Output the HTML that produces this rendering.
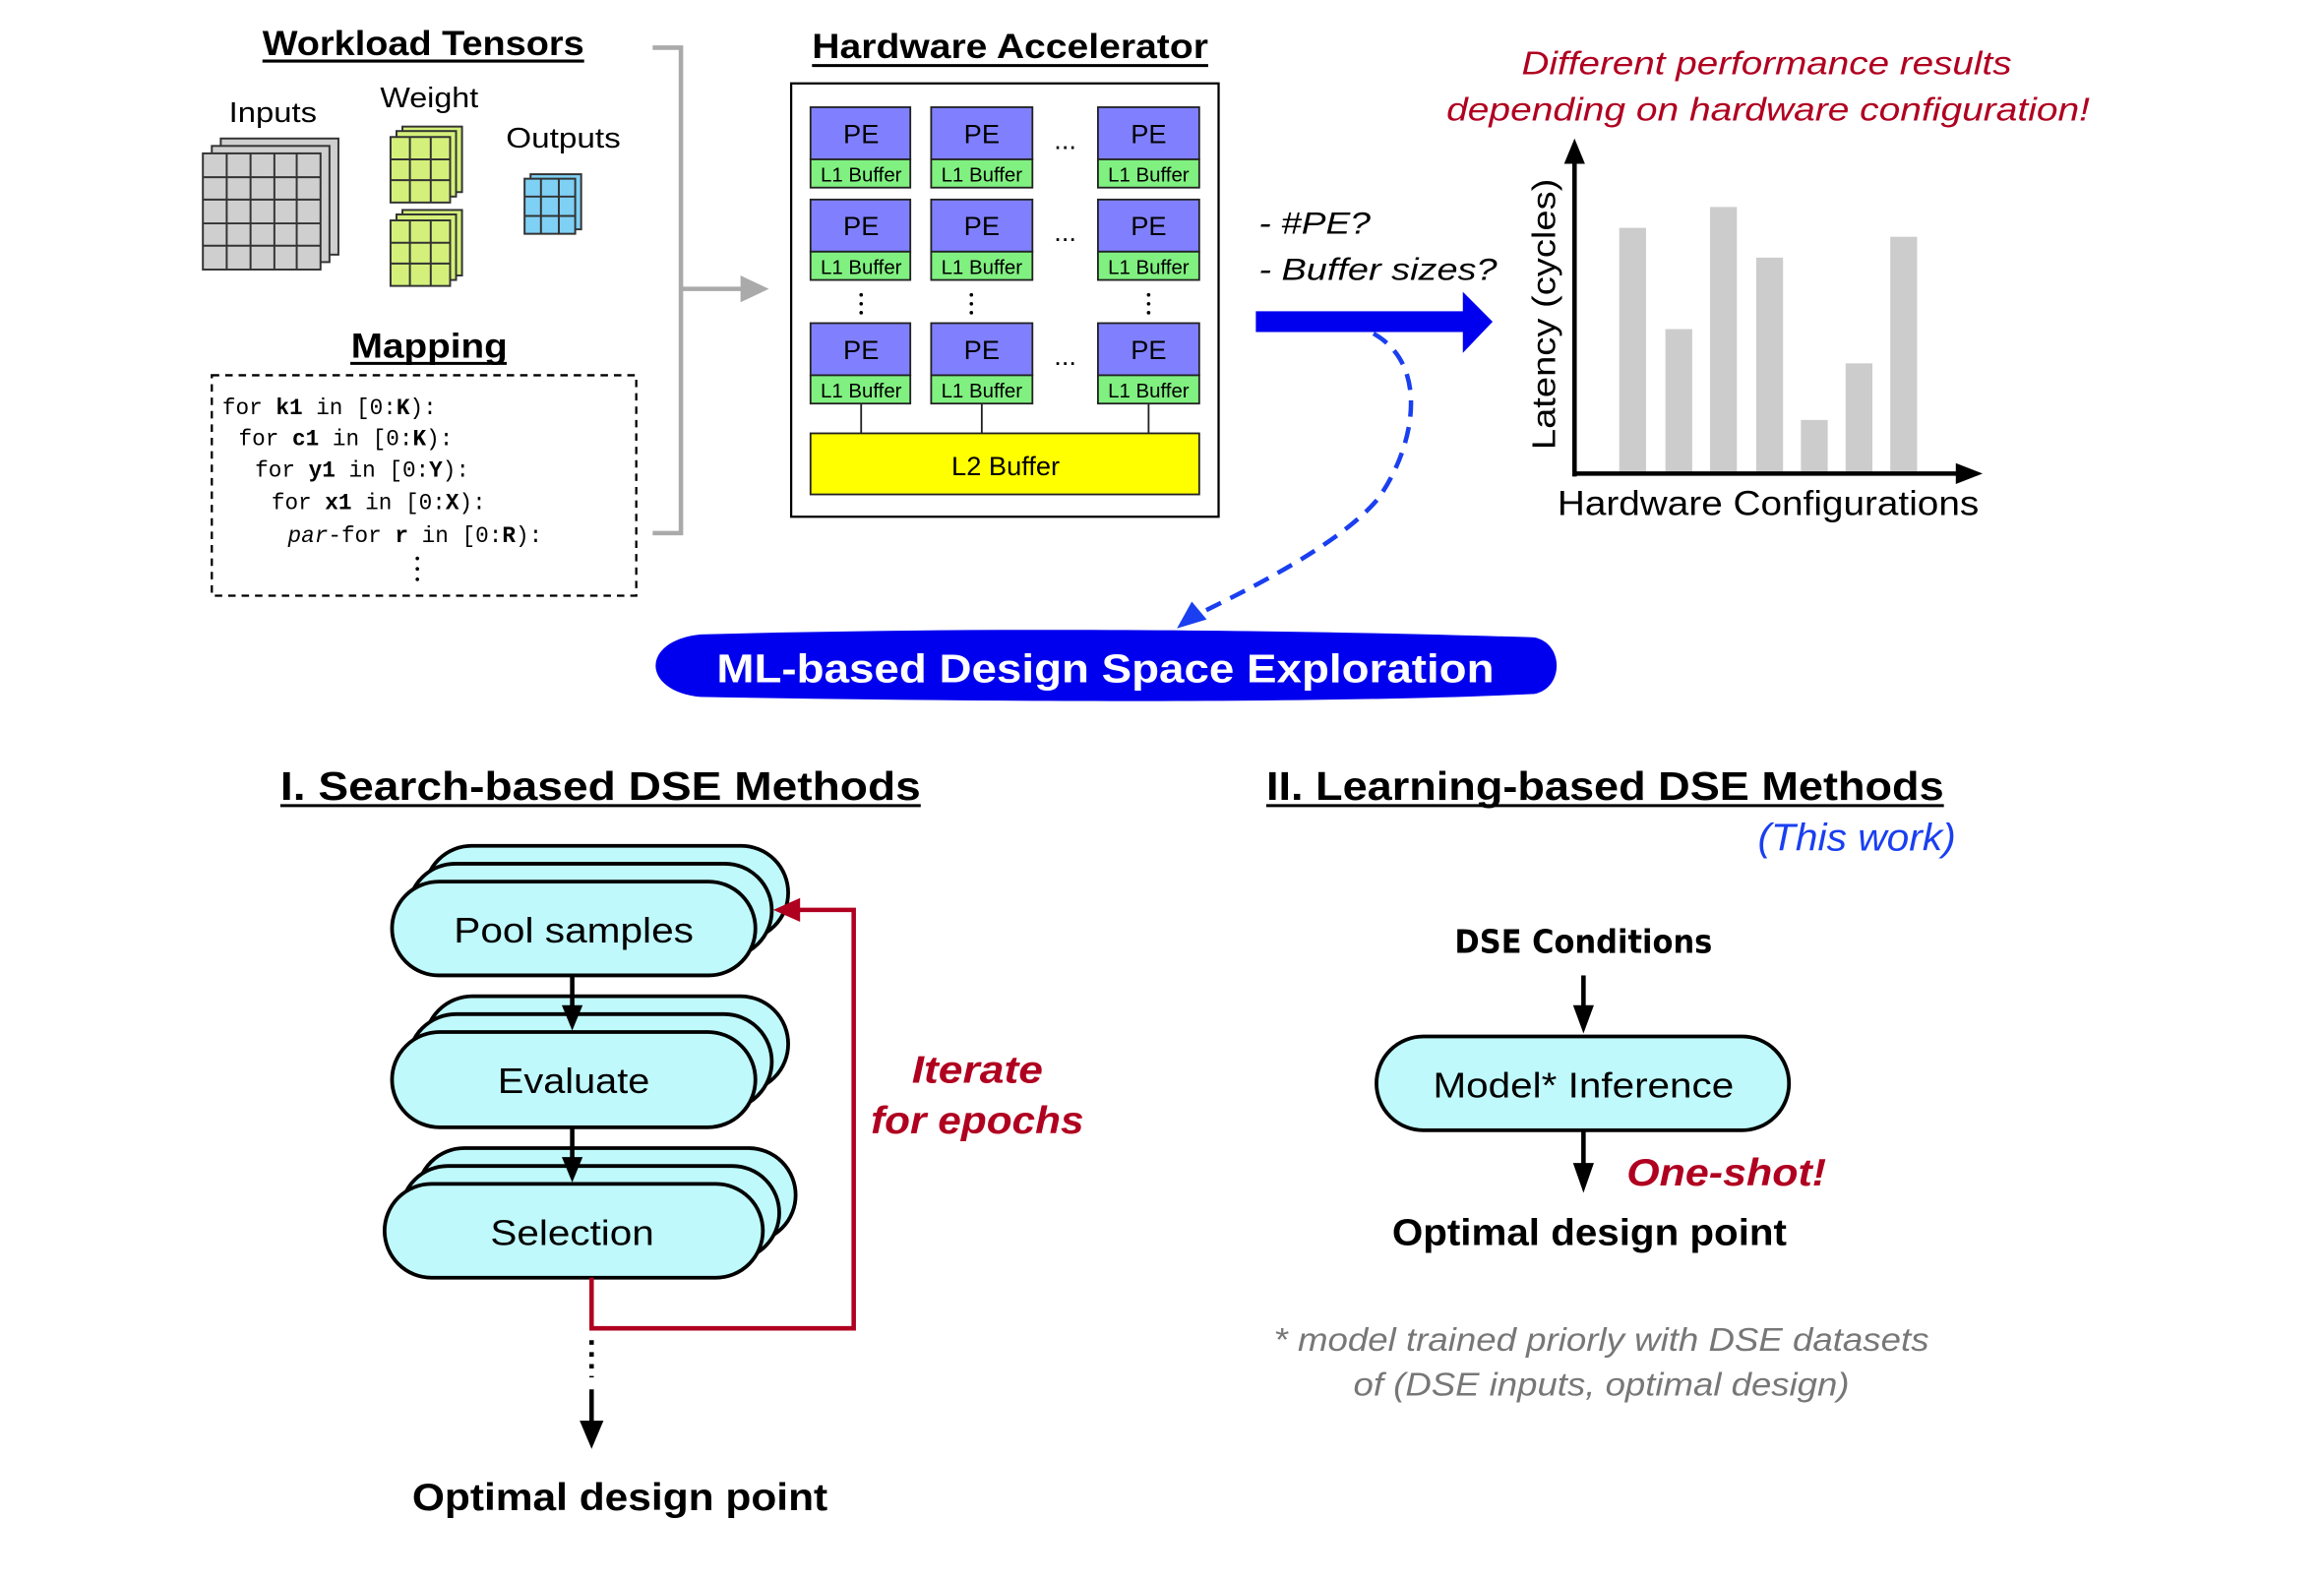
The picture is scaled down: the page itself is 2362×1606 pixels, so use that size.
<!DOCTYPE html>
<html><head><meta charset="utf-8"><style>
html,body{margin:0;padding:0;background:#fff;}
svg{display:block;}
text{font-family:"Liberation Sans",Arial,sans-serif;}
.m{font-family:"Liberation Mono",monospace;font-size:15px;}
</style></head><body>
<svg width="2362" height="1606" viewBox="0 0 1560 1061" xmlns="http://www.w3.org/2000/svg">
<rect width="1560" height="1061" fill="#fff"/>

<!-- Workload tensors -->
<text x="284" y="37" font-size="23" font-weight="bold" text-anchor="middle" textLength="216" lengthAdjust="spacingAndGlyphs">Workload Tensors</text>
<line x1="176" y1="41" x2="392" y2="41" stroke="#000" stroke-width="2"/>
<text x="183" y="82" font-size="19" text-anchor="middle" textLength="59" lengthAdjust="spacingAndGlyphs">Inputs</text>
<text x="288" y="72" font-size="19" text-anchor="middle" textLength="66" lengthAdjust="spacingAndGlyphs">Weight</text>
<text x="378" y="99" font-size="19" text-anchor="middle" textLength="77" lengthAdjust="spacingAndGlyphs">Outputs</text>
<g stroke="#333" stroke-width="1.3" fill="#cfcfcf">
<rect x="148" y="93" width="79" height="78"/>
<rect x="142" y="98" width="79" height="78"/>
<rect x="136" y="103" width="79" height="78"/>
<path d="M152,103V181M168,103V181M184,103V181M199,103V181M136,119H215M136,134H215M136,150H215M136,165H215" fill="none"/>
</g>
<g stroke="#333" stroke-width="1.3" fill="#d4f07a">
<rect x="270" y="85" width="40" height="44"/><rect x="266" y="88" width="40" height="44"/><rect x="262" y="92" width="40" height="44"/>
<path d="M275,92V136M289,92V136M262,107H302M262,121H302" fill="none"/>
<rect x="270" y="141" width="40" height="44"/><rect x="266" y="144" width="40" height="44"/><rect x="262" y="148" width="40" height="44"/>
<path d="M275,148V192M289,148V192M262,163H302M262,177H302" fill="none"/>
</g>
<g stroke="#333" stroke-width="1.3" fill="#7fd0f5">
<rect x="356" y="117" width="34" height="37"/><rect x="352" y="120" width="34" height="37"/>
<path d="M363,120V157M375,120V157M352,132H386M352,145H386" fill="none"/>
</g>

<!-- Mapping -->
<text x="288" y="240" font-size="23" font-weight="bold" text-anchor="middle" textLength="105" lengthAdjust="spacingAndGlyphs">Mapping</text>
<line x1="235" y1="244" x2="340" y2="244" stroke="#000" stroke-width="2"/>
<rect x="142" y="252" width="285" height="148" fill="none" stroke="#000" stroke-width="1.5" stroke-dasharray="5,4"/>
<text class="m" x="149" y="278">for <tspan font-weight="bold">k1</tspan> in [0:<tspan font-weight="bold">K</tspan>):</text>
<text class="m" x="160" y="299">for <tspan font-weight="bold">c1</tspan> in [0:<tspan font-weight="bold">K</tspan>):</text>
<text class="m" x="171" y="320">for <tspan font-weight="bold">y1</tspan> in [0:<tspan font-weight="bold">Y</tspan>):</text>
<text class="m" x="182" y="342">for <tspan font-weight="bold">x1</tspan> in [0:<tspan font-weight="bold">X</tspan>):</text>
<text class="m" x="193" y="364"><tspan font-style="italic">par</tspan>-for <tspan font-weight="bold">r</tspan> in [0:<tspan font-weight="bold">R</tspan>):</text>
<g fill="#000"><circle cx="280" cy="375" r="1.2"/><circle cx="280" cy="382" r="1.2"/><circle cx="280" cy="389" r="1.2"/></g>

<!-- bracket -->
<path d="M438,32 H457 V358 H438" fill="none" stroke="#aaa" stroke-width="3"/>
<line x1="457" y1="194" x2="500" y2="194" stroke="#aaa" stroke-width="3"/>
<path d="M497,185 L516,194 L497,203 z" fill="#aaa"/>

<!-- Hardware accelerator -->
<text x="678" y="39" font-size="23" font-weight="bold" text-anchor="middle" textLength="266" lengthAdjust="spacingAndGlyphs">Hardware Accelerator</text>
<line x1="545" y1="44" x2="811" y2="44" stroke="#000" stroke-width="2"/>
<rect x="531" y="56" width="287" height="291" fill="#fff" stroke="#000" stroke-width="1.5"/>
<g stroke="#222" stroke-width="1.2">
<g id="r1">
<rect x="544" y="72" width="67" height="35" fill="#8080ff"/><rect x="544" y="107" width="67" height="19" fill="#80f080"/>
<rect x="625" y="72" width="68" height="35" fill="#8080ff"/><rect x="625" y="107" width="68" height="19" fill="#80f080"/>
<rect x="737" y="72" width="68" height="35" fill="#8080ff"/><rect x="737" y="107" width="68" height="19" fill="#80f080"/>
</g>
<use href="#r1" y="62"/>
<use href="#r1" y="145"/>
<line x1="578" y1="271" x2="578" y2="291"/><line x1="659" y1="271" x2="659" y2="291"/><line x1="771" y1="271" x2="771" y2="291"/>
<rect x="544" y="291" width="261" height="41" fill="#ffff00"/>
</g>
<g font-size="18" text-anchor="middle">
<text x="578" y="96">PE</text><text x="659" y="96">PE</text><text x="771" y="96">PE</text>
<text x="578" y="158">PE</text><text x="659" y="158">PE</text><text x="771" y="158">PE</text>
<text x="578" y="241">PE</text><text x="659" y="241">PE</text><text x="771" y="241">PE</text>
</g>
<g font-size="13.5" text-anchor="middle">
<text x="578" y="122">L1 Buffer</text><text x="659" y="122">L1 Buffer</text><text x="771" y="122">L1 Buffer</text>
<text x="578" y="184">L1 Buffer</text><text x="659" y="184">L1 Buffer</text><text x="771" y="184">L1 Buffer</text>
<text x="578" y="267">L1 Buffer</text><text x="659" y="267">L1 Buffer</text><text x="771" y="267">L1 Buffer</text>
</g>
<g font-size="18" text-anchor="middle">
<text x="715" y="100">...</text><text x="715" y="162">...</text><text x="715" y="245">...</text>
</g>
<g fill="#000"><circle cx="578" cy="198" r="1.2"/><circle cx="578" cy="204" r="1.2"/><circle cx="578" cy="210" r="1.2"/>
<circle cx="652" cy="198" r="1.2"/><circle cx="652" cy="204" r="1.2"/><circle cx="652" cy="210" r="1.2"/>
<circle cx="771" cy="198" r="1.2"/><circle cx="771" cy="204" r="1.2"/><circle cx="771" cy="210" r="1.2"/></g>
<text x="675" y="319" font-size="18" text-anchor="middle">L2 Buffer</text>

<!-- questions & arrow -->
<text x="845" y="157" font-size="21" font-style="italic" textLength="75" lengthAdjust="spacingAndGlyphs">- #PE?</text>
<text x="845" y="188" font-size="21" font-style="italic" textLength="160" lengthAdjust="spacingAndGlyphs">- Buffer sizes?</text>
<path d="M843,209 H982 V196 L1002,216 L982,237 V223 H843 z" fill="#0000ee"/>
<path d="M922,224 C960,245 950,300 925,335 C900,365 840,395 805,412" fill="none" stroke="#1a3ff0" stroke-width="3" stroke-dasharray="11,7"/>
<path d="M790,422 L800,404 L810,416 z" fill="#1a3ff0"/>

<!-- chart -->
<text x="1186" y="50" font-size="22" font-style="italic" fill="#b00020" text-anchor="middle" textLength="329" lengthAdjust="spacingAndGlyphs">Different performance results</text>
<text x="1187" y="81" font-size="22" font-style="italic" fill="#b00020" text-anchor="middle" textLength="432" lengthAdjust="spacingAndGlyphs">depending on hardware configuration!</text>
<g fill="#cccccc">
<rect x="1087" y="153" width="18" height="165"/><rect x="1118" y="221" width="18" height="97"/>
<rect x="1148" y="139" width="18" height="179"/><rect x="1179" y="173" width="18" height="145"/>
<rect x="1209" y="282" width="18" height="36"/><rect x="1239" y="244" width="18" height="74"/>
<rect x="1269" y="159" width="18" height="159"/>
</g>
<line x1="1057" y1="320" x2="1057" y2="108" stroke="#000" stroke-width="3"/>
<path d="M1050,110 L1057,93 L1064,110 z"/>
<line x1="1057" y1="318" x2="1315" y2="318" stroke="#000" stroke-width="3"/>
<path d="M1313,311 L1331,318 L1313,325 z"/>
<text x="1044" y="211" font-size="22" text-anchor="middle" transform="rotate(-90 1044 211)" textLength="182" lengthAdjust="spacingAndGlyphs">Latency (cycles)</text>
<text x="1187" y="346" font-size="23" text-anchor="middle" textLength="283" lengthAdjust="spacingAndGlyphs">Hardware Configurations</text>

<!-- ML-based -->
<path d="M470,426 C700,420 900,424 1030,428 C1050,432 1050,462 1030,466 C900,472 700,472 470,468 C430,464 430,430 470,426 z" fill="#0000ee"/>
<text x="742" y="458" font-size="27" font-weight="bold" fill="#fff" text-anchor="middle" textLength="522" lengthAdjust="spacingAndGlyphs">ML-based  Design Space Exploration</text>

<!-- Section I -->
<text x="188" y="537" font-size="27" font-weight="bold" textLength="430" lengthAdjust="spacingAndGlyphs">I.  Search-based DSE Methods</text>
<line x1="188" y1="541" x2="618" y2="541" stroke="#000" stroke-width="2"/>
<g stroke="#000" stroke-width="2.5" fill="#bff9fb">
<rect x="285" y="568" width="244" height="63" rx="31.5"/><rect x="274" y="580" width="244" height="63" rx="31.5"/><rect x="263" y="592" width="244" height="63" rx="31.5"/>
<rect x="285" y="669" width="244" height="64" rx="32"/><rect x="274" y="681" width="244" height="64" rx="32"/><rect x="263" y="693" width="244" height="64" rx="32"/>
<rect x="280" y="771" width="254" height="63" rx="31.5"/><rect x="269" y="783" width="254" height="63" rx="31.5"/><rect x="258" y="795" width="254" height="63" rx="31.5"/>
</g>
<g font-size="24" text-anchor="middle">
<text x="385" y="633" textLength="161" lengthAdjust="spacingAndGlyphs">Pool samples</text>
<text x="385" y="734" textLength="102" lengthAdjust="spacingAndGlyphs">Evaluate</text>
<text x="384" y="836" textLength="110" lengthAdjust="spacingAndGlyphs">Selection</text>
</g>
<g stroke="#000" stroke-width="3">
<line x1="384" y1="655" x2="384" y2="678"/><line x1="384" y1="757" x2="384" y2="780"/>
</g>
<path d="M377,675 L384,692 L391,675 z"/><path d="M377,777 L384,794 L391,777 z"/>
<path d="M397,858 V892 H573 V611 H535" fill="none" stroke="#b00020" stroke-width="3"/>
<path d="M537,603 L519,611 L537,619 z" fill="#b00020"/>
<text x="656" y="727" font-size="26" font-weight="bold" font-style="italic" fill="#b00020" text-anchor="middle" textLength="88" lengthAdjust="spacingAndGlyphs">Iterate</text>
<text x="656" y="761" font-size="26" font-weight="bold" font-style="italic" fill="#b00020" text-anchor="middle" textLength="143" lengthAdjust="spacingAndGlyphs">for epochs</text>
<line x1="397" y1="900" x2="397" y2="925" stroke="#000" stroke-width="3" stroke-dasharray="3,5"/>
<line x1="397" y1="933" x2="397" y2="958" stroke="#000" stroke-width="3"/>
<path d="M389,954 L397,973 L405,954 z"/>
<text x="416" y="1014" font-size="26" font-weight="bold" text-anchor="middle" textLength="279" lengthAdjust="spacingAndGlyphs">Optimal design point</text>

<!-- Section II -->
<text x="850" y="537" font-size="27" font-weight="bold" textLength="455" lengthAdjust="spacingAndGlyphs">II. Learning-based DSE Methods</text>
<line x1="850" y1="541" x2="1305" y2="541" stroke="#000" stroke-width="2"/>
<text x="1313" y="571" font-size="26" font-style="italic" fill="#1a3ff0" text-anchor="end" textLength="133" lengthAdjust="spacingAndGlyphs">(This work)</text>
<text x="1063" y="640" font-size="22" font-weight="bold" text-anchor="middle" style="font-family:'DejaVu Sans',sans-serif" textLength="173" lengthAdjust="spacingAndGlyphs">DSE Conditions</text>
<line x1="1063" y1="655" x2="1063" y2="678" stroke="#000" stroke-width="3"/>
<path d="M1056,675 L1063,694 L1070,675 z"/>
<rect x="924" y="696" width="277" height="63" rx="31.5" fill="#bff9fb" stroke="#000" stroke-width="2.5"/>
<text x="1063" y="737" font-size="24" text-anchor="middle" textLength="202" lengthAdjust="spacingAndGlyphs">Model* Inference</text>
<line x1="1063" y1="759" x2="1063" y2="784" stroke="#000" stroke-width="3"/>
<path d="M1056,781 L1063,801 L1070,781 z"/>
<text x="1159" y="796" font-size="26" font-weight="bold" font-style="italic" fill="#b00020" text-anchor="middle" textLength="134" lengthAdjust="spacingAndGlyphs">One-shot!</text>
<text x="1067" y="836" font-size="25" font-weight="bold" text-anchor="middle" textLength="265" lengthAdjust="spacingAndGlyphs">Optimal design point</text>
<text x="1075" y="907" font-size="22" font-style="italic" fill="#777" text-anchor="middle" textLength="440" lengthAdjust="spacingAndGlyphs">* model trained priorly with DSE datasets</text>
<text x="1075" y="937" font-size="22" font-style="italic" fill="#777" text-anchor="middle" textLength="333" lengthAdjust="spacingAndGlyphs">of (DSE inputs, optimal design)</text>
</svg>
</body></html>
